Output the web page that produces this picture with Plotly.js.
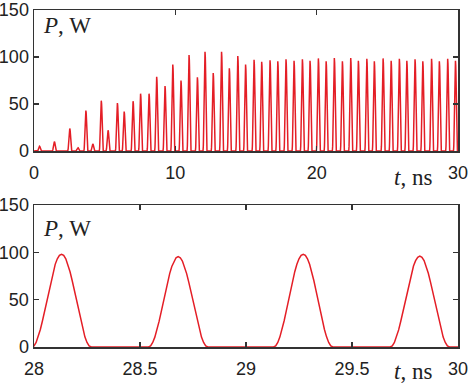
<!DOCTYPE html>
<html>
<head>
<meta charset="utf-8">
<script src="https://cdn.plot.ly/plotly-3.0.1.min.js"></script>
<style>html,body{margin:0;padding:0;background:#fff;}#chart{width:474px;height:386px;}</style>
</head>
<body>
<div id="chart"></div>
<script>
// Peak times (ns) and peak powers (W)
const peakTimes = [0.39, 1.44, 2.53, 3.11, 3.67, 4.16, 4.76, 5.24, 5.90, 6.38,
  7.01, 7.54, 8.14, 8.68, 9.27, 9.82, 10.40, 10.97, 11.56, 12.10,
  12.68, 13.27, 13.82, 14.42, 14.97, 15.57, 16.11, 16.70, 17.25, 17.83,
  18.40, 18.99, 19.53, 20.12, 20.67, 21.25, 21.82, 22.41, 22.95, 23.55,
  24.08, 24.70, 25.27, 25.85, 26.38, 26.96, 27.51, 28.13, 28.68, 29.27, 29.82];
const peakPowers = [5, 10, 24, 3.5, 43, 7.5, 53.5, 22, 51, 42,
  53, 61, 61, 79, 69, 92, 75, 102, 78.5, 105.5,
  83, 105.5, 88, 101, 92, 97, 95, 96.5, 95.5, 97.5,
  96, 97.5, 96, 98.5, 95.5, 99, 95.5, 99, 96, 98,
  95.5, 98.5, 96, 98, 96, 97.5, 95.5, 98, 95.5, 98, 96];
// Single pulse profile (offset from peak in ns, relative power)
const profileOffsets = [-0.14,-0.13,-0.12,-0.11,-0.10,-0.09,-0.08,-0.07,-0.06,-0.05,-0.04,-0.03,-0.02,-0.01,0,
  0.01,0.02,0.03,0.04,0.05,0.06,0.07,0.08,0.09,0.10,0.11,0.12,0.13,0.14];
const profileShape = [0,0.0125,0.0495,0.1091,0.1883,0.2831,0.3887,0.5,0.6113,0.7169,0.8117,0.8909,0.9505,0.9875,1,
  0.9875,0.9505,0.8909,0.8117,0.7169,0.6113,0.5,0.3887,0.2831,0.1883,0.1091,0.0495,0.0125,0];
const tStart = 0, tEnd = 30;
const xTicksTop = [0, 10, 20, 30];
const xTicksBottom = [28, 28.5, 29, 29.5, 30];
const xTickTextBottom = ['28', '28.5', '29', '29.5', '30'];
const yTicks = [0, 50, 100, 150];

const t = [tStart], p = [0];
peakTimes.forEach((tp, i) => {
  profileOffsets.forEach((o, k) => { t.push(tp + o); p.push(peakPowers[i] * profileShape[k]); });
});
t.push(tEnd); p.push(0);

const red = '#e41e26';
const axisCol = '#333';
const tickFont = {family: 'Liberation Sans, Arial, sans-serif', size: 18, color: '#222'};
const serif = {family: 'Liberation Serif, Times New Roman, serif', size: 23, color: '#222'};

function ax(extra) {
  return Object.assign({
    showline: true, linecolor: axisCol, linewidth: 1.5, mirror: 'ticks',
    ticks: 'inside', ticklen: 5, tickwidth: 1.5, tickcolor: axisCol,
    showgrid: false, zeroline: false, tickfont: tickFont, fixedrange: true,
    ticklabeloverflow: 'allow'
  }, extra);
}

const data = [
  {x: t, y: p, type: 'scatter', mode: 'lines', line: {color: red, width: 1.5}, xaxis: 'x', yaxis: 'y', hoverinfo: 'skip'},
  {x: t, y: p, type: 'scatter', mode: 'lines', line: {color: red, width: 1.5}, xaxis: 'x2', yaxis: 'y2', hoverinfo: 'skip'}
];

const H = 337; // plot-area height in px (386 - 10 - 39)
const layout = {
  width: 474, height: 386,
  margin: {l: 34, r: 16, t: 10, b: 39},
  paper_bgcolor: '#fff', plot_bgcolor: '#fff',
  showlegend: false,
  xaxis: ax({domain: [0, 1], range: [0, 30], tickvals: xTicksTop, anchor: 'y', ticklabelstandoff: 5}),
  yaxis: ax({domain: [(347 - 151) / H, 1], range: [0, 150], tickvals: yTicks, anchor: 'x'}),
  xaxis2: ax({domain: [0, 1], range: [28, 30], tickvals: xTicksBottom, ticktext: xTickTextBottom, anchor: 'y2', ticklabelstandoff: 5}),
  yaxis2: ax({domain: [0, (347 - 205) / H], range: [0, 150], tickvals: yTicks, anchor: 'x2'}),
  annotations: [
    {text: '<i>P</i>, W', xref: 'paper', yref: 'paper', x: 0.017, y: (347 - 26) / H, xanchor: 'left', yanchor: 'middle', showarrow: false, font: serif},
    {text: '<i>P</i>, W', xref: 'paper', yref: 'paper', x: 0.017, y: (347 - 228) / H, xanchor: 'left', yanchor: 'middle', showarrow: false, font: serif},
    {text: '<i>t</i>, ns', xref: 'paper', yref: 'paper', x: 0.894, y: (347 - 177) / H, xanchor: 'center', yanchor: 'middle', showarrow: false, font: serif},
    {text: '<i>t</i>, ns', xref: 'paper', yref: 'paper', x: 0.894, y: -39 / H, xanchor: 'center', yanchor: 'bottom', showarrow: false, font: serif}
  ]
};

Plotly.newPlot('chart', data, layout, {displayModeBar: false, staticPlot: true});
</script>
</body>
</html>
